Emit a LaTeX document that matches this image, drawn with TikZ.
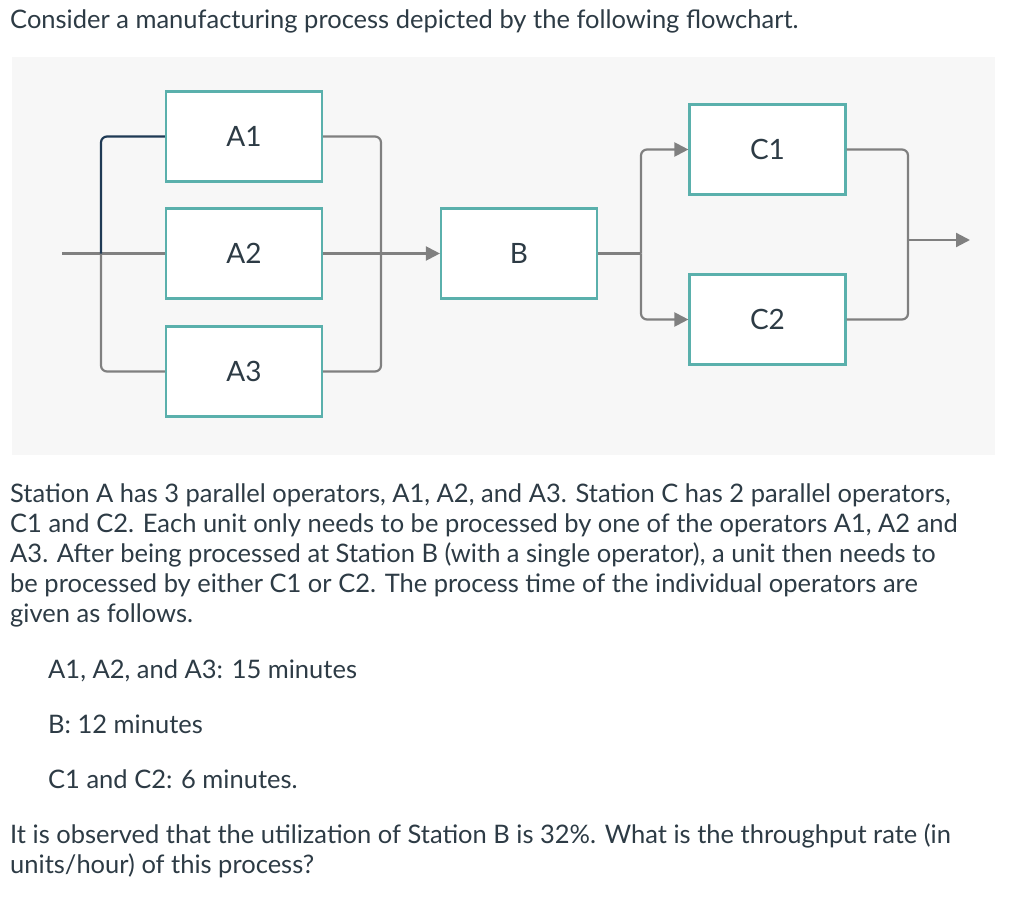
\documentclass[tikz,border=0pt]{standalone}
\usepackage{fontspec}
\setmainfont{Lato}
\usetikzlibrary{arrows.meta}
\definecolor{txt}{HTML}{2D3B45}
\definecolor{teal}{HTML}{5AB0AC}
\definecolor{ln}{HTML}{808080}
\definecolor{navy}{HTML}{1F3A55}
\begin{document}
\begin{tikzpicture}[x=1pt,y=-1pt,
  box/.style={draw=teal,line width=2.2pt,fill=white,minimum width=156pt,minimum height=90pt,inner sep=0pt,font=\fontsize{28}{32}\selectfont,text=txt},
  conn/.style={draw=ln,line width=2.2pt,rounded corners=6pt},
  arr/.style={conn,-{Triangle[length=14pt,width=14pt]}},
  para/.style={anchor=base west,inner sep=0pt,font=\fontsize{25.5}{30}\selectfont,text=txt}]
\useasboundingbox (0,0) rectangle (1024,896);
\fill[white] (0,0) rectangle (1024,896);
\fill[black!3] (12,57) rectangle (995,455);
\node[box] (A1) at (244,136.5) {A1};
\node[box] (A2) at (244,253.5) {A2};
\node[box] (A3) at (244,371.5) {A3};
\node[box] (B) at (519,253.5) {B};
\node[box] (C1) at (767.5,149.5) {C1};
\node[box] (C2) at (767.5,319.5) {C2};
\coordinate (in) at (62,253.5);
\coordinate (out) at (970,240);
\draw[conn] (in) -- (A2.west);
\draw[conn] (A3.west) -| (101,253.5);
\draw[draw=navy,line width=2.2pt,rounded corners=6pt] (101,253.5) |- (A1.west);
\draw[conn] (A1.east) -| (381,253.5);
\draw[conn] (A3.east) -| (381,253.5);
\draw[arr] (A2.east) -- (B.west);
\draw[conn] (B.east) -- (641,253.5);
\draw[arr] (641,253.5) |- (C1.west);
\draw[arr] (641,253.5) |- (C2.west);
\draw[conn] (C1.east) -| (908,240);
\draw[conn] (C2.east) -| (908,240);
\draw[arr,rounded corners=0pt] (908,240) -- (out);
\node[para] (t) at (10,29) {Consider a manufacturing process depicted by the following flowchart.};
\node[para] (p1) at (10,502) {Station A has 3 parallel operators, A1, A2, and A3. Station C has 2 parallel operators,};
\node[para] (p2) at (10,532) {C1 and C2. Each unit only needs to be processed by one of the operators A1, A2 and};
\node[para] (p3) at (10,562) {A3. After being processed at Station B (with a single operator), a unit then needs to};
\node[para] (p4) at (10,592) {be processed by either C1 or C2. The process time of the individual operators are};
\node[para] (p5) at (10,622) {given as follows.};
\node[para] (l1) at (48,678) {A1, A2, and A3: 15 minutes};
\node[para] (l2) at (48,733) {B: 12 minutes};
\node[para] (l3) at (48,788) {C1 and C2: 6 minutes.};
\node[para] (q1) at (10,843) {It is observed that the utilization of Station B is 32\%. What is the throughput rate (in};
\node[para] (q2) at (10,873) {units/hour) of this process?};
\end{tikzpicture}
\end{document}
